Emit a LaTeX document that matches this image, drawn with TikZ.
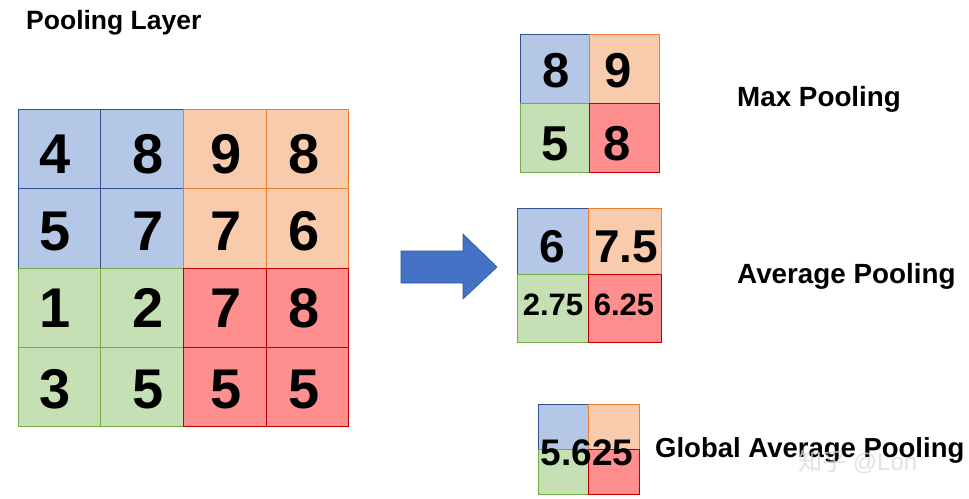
\documentclass[tikz,border=0pt]{standalone}
\usepackage{fontspec}
\setmainfont{Liberation Sans}
\newfontfamily\cjk{Noto Sans CJK SC}
\definecolor{bfill}{HTML}{B4C7E7}\definecolor{bdraw}{HTML}{2F528F}
\definecolor{ofill}{HTML}{F8CBAD}\definecolor{odraw}{HTML}{ED7D31}
\definecolor{gfill}{HTML}{C5E0B4}\definecolor{gdraw}{HTML}{70AD47}
\definecolor{rfill}{HTML}{FF8F8F}\definecolor{rdraw}{HTML}{C00000}
\definecolor{arrowfill}{HTML}{4472C4}\definecolor{arrowdraw}{HTML}{2F5597}
\begin{document}
\begin{tikzpicture}[x=1pt,y=-1pt,
  cell/.style={draw, line width=0.8pt, inner sep=0pt, outer sep=0pt},
  bcell/.style={cell, fill=bfill, draw=bdraw},
  ocell/.style={cell, fill=ofill, draw=odraw},
  gcell/.style={cell, fill=gfill, draw=gdraw},
  rcell/.style={cell, fill=rfill, draw=rdraw},
  num/.style={anchor=base, inner sep=0pt, font=\bfseries\fontsize{56}{56}\selectfont},
  lbl/.style={anchor=base west, inner sep=0pt, font=\bfseries\fontsize{27.8}{27.8}\selectfont}]
\useasboundingbox (0,0) rectangle (969,498);
% title
\node[lbl, font=\bfseries\fontsize{26.5}{26.5}\selectfont] (title) at (26,29) {Pooling Layer};
% big grid
\foreach \r/\ya/\yb in {1/109/188,2/188/268,3/268/347,4/347/426}{
  \foreach \c/\xa/\xb in {1/18/100,2/100/183,3/183/266,4/266/348}{
    \pgfmathtruncatemacro{\q}{(\r>2)*2+(\c>2)}
    \ifcase\q
      \path[bcell] (\xa,\ya) rectangle (\xb,\yb) node[pos=.5,inner sep=0pt] (g\r\c) {};
    \or
      \path[ocell] (\xa,\ya) rectangle (\xb,\yb) node[pos=.5,inner sep=0pt] (g\r\c) {};
    \or
      \path[gcell] (\xa,\ya) rectangle (\xb,\yb) node[pos=.5,inner sep=0pt] (g\r\c) {};
    \else
      \path[rcell] (\xa,\ya) rectangle (\xb,\yb) node[pos=.5,inner sep=0pt] (g\r\c) {};
    \fi
  }
}
\node[num] (n11) at (55,173) {4};
\node[num] (n12) at (148,173) {8};
\node[num] (n13) at (226,173) {9};
\node[num] (n14) at (304,173) {8};
\node[num] (n21) at (55,250) {5};
\node[num] (n22) at (148,250) {7};
\node[num] (n23) at (226,250) {7};
\node[num] (n24) at (304,250) {6};
\node[num] (n31) at (55,327) {1};
\node[num] (n32) at (148,327) {2};
\node[num] (n33) at (226,327) {7};
\node[num] (n34) at (304,327) {8};
\node[num] (n41) at (55,408) {3};
\node[num] (n42) at (148,408) {5};
\node[num] (n43) at (226,408) {5};
\node[num] (n44) at (304,408) {5};
% arrow
\filldraw[fill=arrowfill, draw=arrowdraw, line width=0.6pt]
  (401,251) -- (463,251) -- (463,234) -- (497,267) -- (463,299) -- (463,283) -- (401,283) -- cycle;
% max pooling
\path[bcell] (520,34) rectangle (589,103);
\path[ocell] (589,34) rectangle (659,103);
\path[gcell] (520,103) rectangle (589,172);
\path[rcell] (589,103) rectangle (659,172);
\node[num, font=\bfseries\fontsize{49}{49}\selectfont] (m11) at (556,87) {8};
\node[num, font=\bfseries\fontsize{49}{49}\selectfont] (m12) at (618,87) {9};
\node[num, font=\bfseries\fontsize{49}{49}\selectfont] (m21) at (555,160) {5};
\node[num, font=\bfseries\fontsize{49}{49}\selectfont] (m22) at (617.5,160) {8};
\node[lbl] (maxl) at (737,106) {Max Pooling};
% average pooling
\path[bcell] (517,208) rectangle (588,274);
\path[ocell] (588,208) rectangle (661,274);
\path[gcell] (517,274) rectangle (588,342);
\path[rcell] (588,274) rectangle (661,342);
\node[num, font=\bfseries\fontsize{46}{46}\selectfont] (a11) at (552,262) {6};
\node[num, font=\bfseries\fontsize{46}{46}\selectfont] (a12) at (626,262) {7.5};
\node[num, font=\bfseries\fontsize{31}{31}\selectfont] (a21) at (553,315) {2.75};
\node[num, font=\bfseries\fontsize{31}{31}\selectfont] (a22) at (624,315) {6.25};
\node[lbl] (avgl) at (737,283) {Average Pooling};
% global average pooling
\path[bcell] (538,404) rectangle (588,449);
\path[ocell] (588,404) rectangle (639,449);
\path[gcell] (538,449) rectangle (588,494);
\path[rcell] (588,449) rectangle (639,494);
\node[num, font=\bfseries\fontsize{37}{37}\selectfont] (gv) at (587,465) {5.625};
\node[lbl, font=\bfseries\fontsize{27.5}{27.5}\selectfont] (gapl) at (655,457) {Global Average Pooling};
% watermark
\node[anchor=base west, inner sep=0pt, text=gray!30, opacity=0.8, font=\fontsize{24}{24}\selectfont] (wm) at (798,470) {{\cjk 知乎} @Lon};
\end{tikzpicture}
\end{document}
